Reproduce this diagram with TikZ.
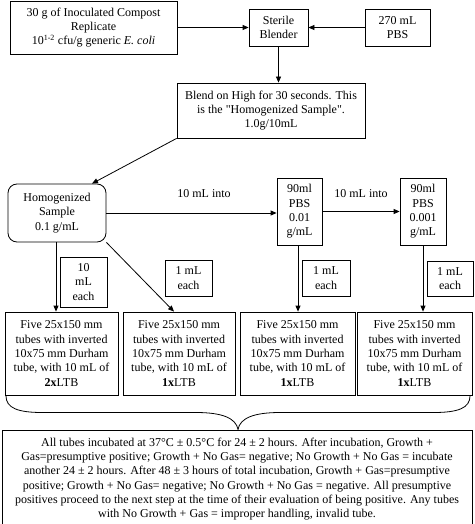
\documentclass[tikz,border=0pt]{standalone}
\usepackage{fontspec}
\setmainfont{Liberation Serif}
\usetikzlibrary{arrows.meta}
\newcommand\myfs{\fontsize{12}{14.3}\selectfont}
\tikzset{
  box/.style={draw, line width=0.8pt, align=center, inner sep=0pt, font=\myfs},
  lbl/.style={align=center, inner sep=0pt, font=\myfs},
  arr/.style={line width=0.8pt, -{Triangle[length=6pt,width=5pt]}},
  conn/.style={line width=0.8pt}
}
\begin{document}
\begin{tikzpicture}[x=1pt,y=-1pt]
\useasboundingbox (0,0) rectangle (474,524);

\node[box, minimum width=167pt, minimum height=53pt] (c1) at (93.5,27.5)
  {30 g of Inoculated Compost\\Replicate\\10\textsuperscript{1-2} cfu/g generic \textit{E. coli}};
\node[box, minimum width=59pt, minimum height=37pt] (bl) at (278.5,27.5) {Sterile\\Blender};
\node[box, minimum width=65pt, minimum height=37pt] (pbs) at (397.5,27.5) {270 mL\\PBS};
\node[box, minimum width=188pt, minimum height=55pt] (blend) at (271,110.5)
  {Blend on High for 30 seconds. This\\is the \textquotedbl Homogenized Sample\textquotedbl.\\1.0g/10mL};

\node[box, rounded corners=9pt, minimum width=98pt, minimum height=58pt] (hs) at (57,213)
  {Homogenized\\Sample\\0.1 g/mL};
\node[box, minimum width=45pt, minimum height=67pt] (p1) at (299.5,211.5) {90ml\\PBS\\0.01\\g/mL};
\node[box, minimum width=46pt, minimum height=67pt] (p2) at (423,211.5) {90ml\\PBS\\0.001\\g/mL};

\node[lbl] (l1) at (204,194) {10 mL into};
\node[lbl] (l2) at (361,194) {10 mL into};

\node[box, minimum width=47pt, minimum height=50pt] (e10) at (83.5,282) {10\\mL\\each};
\node[box, minimum width=47pt, minimum height=36pt] (e1a) at (188.5,278) {1 mL\\each};
\node[box, minimum width=48pt, minimum height=36pt] (e1b) at (326,278) {1 mL\\each};
\node[box, minimum width=46pt, minimum height=35pt] (e1c) at (450,278.5) {1 mL\\each};

\node[box, minimum width=113pt, minimum height=83pt] (t1) at (61.5,353.5)
  {Five 25x150 mm\\tubes with inverted\\10x75 mm Durham\\tube, with 10 mL of\\\textbf{2x}LTB};
\node[box, minimum width=112pt, minimum height=83pt] (t2) at (179,353.5)
  {Five 25x150 mm\\tubes with inverted\\10x75 mm Durham\\tube, with 10 mL of\\\textbf{1x}LTB};
\node[box, minimum width=115pt, minimum height=83pt] (t3) at (297.5,353.5)
  {Five 25x150 mm\\tubes with inverted\\10x75 mm Durham\\tube, with 10 mL of\\\textbf{1x}LTB};
\node[box, minimum width=115pt, minimum height=83pt] (t4) at (414.5,353.5)
  {Five 25x150 mm\\tubes with inverted\\10x75 mm Durham\\tube, with 10 mL of\\\textbf{1x}LTB};

\node[box, minimum width=470pt, minimum height=98pt] (inc) at (237,479)
  {All tubes incubated at 37°C ± 0.5°C for 24 ± 2 hours. After incubation, Growth +\\
   Gas=presumptive positive; Growth + No Gas= negative; No Growth + No Gas = incubate\\
   another 24 ± 2 hours. After 48 ± 3 hours of total incubation, Growth + Gas=presumptive\\
   positive; Growth + No Gas= negative; No Growth + No Gas = negative. All presumptive\\
   positives proceed to the next step at the time of their evaluation of being positive. Any tubes\\
   with No Growth + Gas = improper handling, invalid tube.};

% connectors
\draw[arr] (c1.east) -- (bl.west);
\draw[arr] (pbs.west) -- (bl.west -| bl.east);
\draw[arr] (bl.south) -- (bl.south |- blend.north);
\draw[arr] (blend.south west) -- ([xshift=35pt]hs.north);
\draw[arr] (hs.east) -- (hs.east -| p1.west);
\draw[arr] (p1.east) -- (p1.east -| p2.west);
\draw[arr] ([xshift=-1pt]hs.south) -- ([xshift=-1pt]hs.south |- t1.north);
\draw[arr] (hs.south east) -- ([xshift=-5pt]t2.north);
\draw[arr] ([xshift=-1.5pt]p1.south) -- ([xshift=-1.5pt]p1.south |- t3.north);
\draw[arr] (p2.south) -- (p2.south |- t4.north);

% brace
\coordinate (bt) at (238,429.5);
\draw[conn] (6,396) .. controls (6,408) and (18,412.5) .. (42,412.5)
  -- (196,412.5) .. controls (222,412.5) and (236,418) .. (bt)
  .. controls (240,418) and (254,412.5) .. (280,412.5)
  -- (434,412.5) .. controls (458,412.5) and (470,408) .. (470,396);
\end{tikzpicture}
\end{document}
